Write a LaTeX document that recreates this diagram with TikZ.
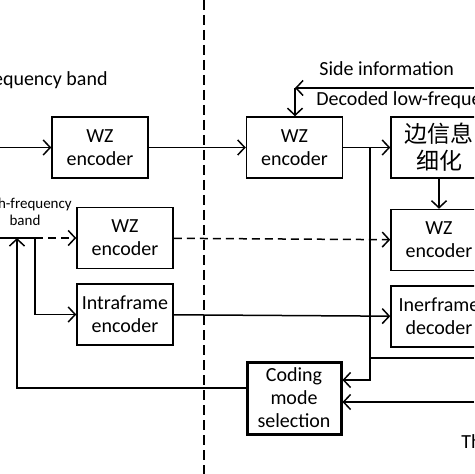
\documentclass[tikz,border=0pt]{standalone}
\usepackage{fontspec}
\setmainfont{Carlito}
\newfontfamily\cjk{Noto Sans CJK SC}
\usetikzlibrary{positioning,arrows.meta}

\tikzset{
  block/.style={draw, line width=0.75pt, minimum width=48pt, minimum height=30.5pt,
    inner sep=0pt, align=center, font=\fontsize{10}{11.5}\selectfont},
  lbl/.style={inner sep=0pt, font=\fontsize{10}{11.5}\selectfont},
  wire/.style={line width=0.75pt},
  dwire/.style={wire, dash pattern=on 4pt off 2.5pt},
}

\begin{document}
\begin{tikzpicture}[x=0.5pt, y=-0.5pt, >={Straight Barb[length=3.5pt,width=7.5pt]}]
  \useasboundingbox (0,0) rectangle (474,474);
  \clip (0,0) rectangle (474,474);

  % encoder side and decoder side
  \node[block] (wzA) at (100,147.5) {WZ\\encoder};
  \node[block, right=48.5pt of wzA] (wzB) {WZ\\encoder};
  \node[block, right=23.5pt of wzB, font=\cjk\fontsize{11.5}{13.5}\selectfont] (refine) {边信息\\细化};
  \node[block, below=15pt of refine] (wzD) {WZ\\encoder};
  \node[block, below=7pt of wzD] (inter) {Inerframe\\decoder};
  \node[block] (wzC) at (125,238) {WZ\\encoder};
  \node[block, below=7pt of wzC] (intra) {Intraframe\\encoder};
  \node[block, line width=1.5pt, minimum width=47pt, minimum height=36pt] (mode) at (294,398)
    {Coding\\mode\\selection};

  % labels
  \node[lbl, anchor=east] (lowlbl) at (108,80) {Low-frequency band};
  \node[lbl, align=center, font=\fontsize{7.5}{8.6}\selectfont] (highlbl) at (25,212) {High-frequency\\band};
  \node[lbl, anchor=west] (sidelbl) at (319,69) {Side information};
  \node[lbl, anchor=west] (declbl) at (316,100) {Decoded low-frequency band};
  \node[lbl, anchor=west] (thlbl) at (461,442) {The decoder};

  % free ends and bends
  \coordinate (divT) at (204,0);
  \coordinate (divB) at (204,474);
  \coordinate (lowin) at (0,147.5);
  \coordinate (hiin) at (0,238);
  \coordinate (br) at (35,238);
  \coordinate (fb) at (17,238);
  \coordinate (sideR) at (474,88);
  \coordinate (sideC) at (295,88);
  \coordinate (j1) at (370,147.5);
  \coordinate (r2) at (474,358);
  \coordinate (r3) at (474,402);

  \draw[wire, dash pattern=on 5pt off 2.5pt] (divT) -- (divB);

  \draw[wire, ->] (lowin) -- (wzA);
  \draw[wire, ->] (wzA) -- (wzB);
  \draw[wire, ->] (wzB) -- (refine);
  \draw[wire, ->] (sideR) -- (sideC);
  \draw[wire, ->] (sideC) -- (sideC |- wzB.north);
  \draw[wire, ->] (refine) -- (wzD);
  \draw[wire, ->] (j1) |- ([yshift=9pt]mode.east);
  \draw[wire] (r2) -- (r2 -| j1);
  \draw[wire, ->] (r3) -- ([yshift=-2pt]mode.east);
  \draw[wire, ->] ([yshift=5pt]mode.west) -| (fb);

  \draw[wire] (hiin) -- (br);
  \draw[dwire, ->] (br) -- (wzC);
  \draw[wire, ->] (br) |- (intra);
  \draw[dwire, ->] (wzC) -- (wzD);
  \draw[wire, ->] (intra) -- (inter);
\end{tikzpicture}
\end{document}
